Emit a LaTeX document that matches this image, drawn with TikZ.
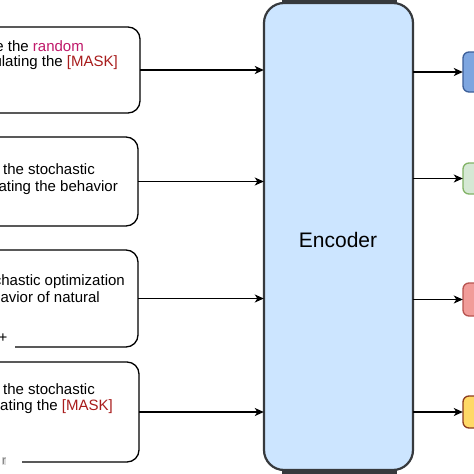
\documentclass[tikz,border=0pt]{standalone}
\usepackage{fontspec}
\setmainfont{Liberation Sans}
\usetikzlibrary{arrows.meta}
\definecolor{encfill}{HTML}{CCE5FF}
\definecolor{encdraw}{HTML}{36393D}
\definecolor{randc}{HTML}{C0186A}
\definecolor{maskc}{HTML}{A81C1C}
\definecolor{bluef}{HTML}{7EA6E0}
\definecolor{blued}{HTML}{3C5F99}
\definecolor{greenf}{HTML}{D5E8D4}
\definecolor{greend}{HTML}{82B366}
\definecolor{redf}{HTML}{F19C99}
\definecolor{redd}{HTML}{B85450}
\definecolor{yelf}{HTML}{FFD966}
\definecolor{yeld}{HTML}{8C3C1E}
\tikzset{
  inbox/.style={draw=black, line width=1.3pt, rounded corners=12pt, fill=white},
  outbox/.style={line width=1.3pt, rounded corners=6pt},
  txt/.style={font=\fontsize{15}{17}\selectfont, inner sep=0pt, anchor=base east},
  arr/.style={line width=1.3pt, -{Stealth[length=9pt,width=8pt,inset=2.5pt]}},
}
\begin{document}
\begin{tikzpicture}[x=1pt,y=-1pt]
\useasboundingbox (0,0) rectangle (474,474);
\fill[white] (0,0) rectangle (474,474);
% dark bands behind encoder
\fill[encdraw] (282,-2) rectangle (397,476);
% encoder
\draw[fill=encfill, draw=encdraw, line width=2.2pt, rounded corners=20pt] (264,3) rectangle (413,470);
\node (enc) at (338.5,236.5) [minimum width=149pt, minimum height=467pt, inner sep=0pt] {};
\node (enctext) at (338,240) {\fontsize{21}{25}\selectfont Encoder};
% input boxes
\draw[inbox] (-20,27) rectangle (140,113);
\node (b1) at (60,70) [minimum width=160pt, minimum height=86pt, inner sep=0pt] {};
\draw[inbox] (-20,137) rectangle (138,226);
\node (b2) at (59,181.5) [minimum width=158pt, minimum height=89pt, inner sep=0pt] {};
\draw[inbox] (-20,250) rectangle (138,347);
\node (b3) at (59,298.5) [minimum width=158pt, minimum height=97pt, inner sep=0pt] {};
\draw[inbox] (-20,362) rectangle (139,462);
\node (b4) at (59.5,412) [minimum width=159pt, minimum height=100pt, inner sep=0pt] {};
% covers on bottom edges
\fill[white] (-2,343) rectangle (15,351);
\fill[white] (-2,458) rectangle (22,466);
\node (plus) at (3,338) [inner sep=0pt] {\fontsize{15}{17}\selectfont +};
\node (rr) at (4,461) [inner sep=0.5pt, fill=gray!25, text=gray] {\fontsize{12}{14}\selectfont r};
% texts
\node[txt] (t11) at (84,51) {e the \textcolor{randc}{random}};
\node[txt] (t12) at (118,66) {ulating the \textcolor{maskc}{[MASK]}};
\node[txt] (t21) at (95,174) {the stochastic};
\node[txt] (t22) at (118,191) {ating the behavior};
\node[txt] (t31) at (125,285) {chastic optimization};
\node[txt] (t32) at (100,302) {avior of natural};
\node[txt] (t41) at (95,394) {the stochastic};
\node[txt] (t42) at (113,410) {ating the \textcolor{maskc}{[MASK]}};
% output boxes
\draw[outbox, fill=bluef, draw=blued] (463,52) rectangle (500,92);
\node (o1) at (481.5,72) [minimum width=37pt, minimum height=40pt, inner sep=0pt] {};
\draw[outbox, fill=greenf, draw=greend] (463,163) rectangle (500,194);
\node (o2) at (481.5,178.5) [minimum width=37pt, minimum height=31pt, inner sep=0pt] {};
\draw[outbox, fill=redf, draw=redd] (463,283) rectangle (500,316);
\node (o3) at (481.5,299.5) [minimum width=37pt, minimum height=33pt, inner sep=0pt] {};
\draw[outbox, fill=yelf, draw=yeld] (463,396) rectangle (500,428);
\node (o4) at (481.5,412) [minimum width=37pt, minimum height=32pt, inner sep=0pt] {};
% arrows in
\draw[arr] (b1.east) -- (enc.west |- b1.east);
\draw[arr] (b2.east) -- (enc.west |- b2.east);
\draw[arr] (b3.east) -- (enc.west |- b3.east);
\draw[arr] (b4.east) -- (enc.west |- b4.east);
% arrows out
\draw[arr] (enc.east |- o1.west) -- (o1.west);
\draw[arr] (enc.east |- o2.west) -- (o2.west);
\draw[arr] (enc.east |- o3.west) -- (o3.west);
\draw[arr] (enc.east |- o4.west) -- (o4.west);
\end{tikzpicture}
\end{document}
